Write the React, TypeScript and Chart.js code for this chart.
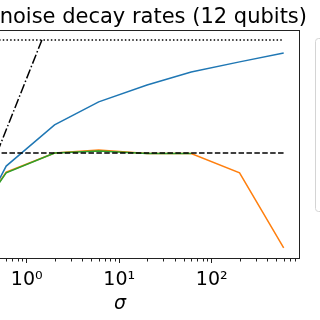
import React, { useEffect, useRef } from 'react';
import { Chart, registerables } from 'chart.js';

Chart.register(...registerables);

// ---- data ----
const sigma = [0.2, 0.6, 2, 6, 20, 60, 200, 600];
const blueRates = [0.066, 0.442, 0.624, 0.726, 0.801, 0.858, 0.903, 0.942];
const orangeRates = [0.13, 0.415, 0.5, 0.513, 0.498, 0.498, 0.412, 0.08];
const greenRates = [0.13, 0.412, 0.5, 0.509, 0.498, 0.498, null, null];
const boundSigma = [0.2, 1.46];
const boundRates = [0.111, 1.0];
const refSigma = [0.2, 600];
const upperRef = [1.0, 1.0];
const lowerRef = [0.5, 0.5];
const majorTicks = [1, 10, 100];
const majorTickLabels = ['10⁰', '10¹', '10²'];
const minorTicks = [
  0.2, 0.3, 0.4, 0.5, 0.6, 0.7, 0.8, 0.9,
  2, 3, 4, 5, 6, 7, 8, 9,
  20, 30, 40, 50, 60, 70, 80, 90,
  200, 300, 400, 500, 600, 700, 800, 900,
];
const titleText = 'noise decay rates (12 qubits)';
const xLabel = 'σ';

const pts = (xs: number[], ys: (number | null)[]) => xs.map((x, i) => ({ x, y: ys[i] }));

const decor = {
  id: 'decor',
  afterDraw(chart: any) {
    const { ctx, chartArea: a, scales } = chart;
    const xs = scales.x;
    ctx.save();
    ctx.strokeStyle = '#222';
    ctx.lineWidth = 1;
    // minor ticks
    minorTicks.forEach((v) => {
      const px = Math.round(xs.getPixelForValue(v)) + 0.5;
      if (px < a.left || px > a.right) return;
      ctx.beginPath();
      ctx.moveTo(px, a.bottom);
      ctx.lineTo(px, a.bottom + 2.5);
      ctx.stroke();
    });
    // frame
    ctx.strokeRect(Math.round(a.left) + 0.5, Math.round(a.top) + 0.5,
      Math.round(a.right - a.left) - 1, Math.round(a.bottom - a.top) - 1);
    // legend box (cropped)
    const lx = a.right + 15.5, ly = 38.5, lw = 120, lh = 173, r = 3;
    ctx.beginPath();
    ctx.moveTo(lx + r, ly);
    ctx.lineTo(lx + lw - r, ly);
    ctx.arcTo(lx + lw, ly, lx + lw, ly + r, r);
    ctx.lineTo(lx + lw, ly + lh - r);
    ctx.arcTo(lx + lw, ly + lh, lx + lw - r, ly + lh, r);
    ctx.lineTo(lx + r, ly + lh);
    ctx.arcTo(lx, ly + lh, lx, ly + lh - r, r);
    ctx.lineTo(lx, ly + r);
    ctx.arcTo(lx, ly, lx + r, ly, r);
    ctx.closePath();
    ctx.fillStyle = '#ffffff';
    ctx.fill();
    ctx.strokeStyle = '#d4d4d4';
    ctx.stroke();
    // title (left part cropped off in the reference)
    ctx.fillStyle = '#000';
    ctx.font = '21px "DejaVu Sans"';
    ctx.textAlign = 'right';
    ctx.textBaseline = 'alphabetic';
    ctx.fillText(titleText, a.right + 7, 23);
    ctx.restore();
  },
};

export default function App() {
  const ref = useRef<HTMLCanvasElement>(null);
  useEffect(() => {
    if (!ref.current) return;
    Chart.defaults.font.family = '"DejaVu Sans"';
    const line = (data: any, color: string, order: number, dash: number[] = []) => ({
      data,
      borderColor: color,
      backgroundColor: color,
      borderWidth: 1.5,
      borderDash: dash,
      pointRadius: 0,
      tension: 0,
      fill: false,
      spanGaps: false,
      order,
    });
    const chart = new Chart(ref.current, {
      type: 'line',
      data: {
        datasets: [
          line(pts(sigma, blueRates), '#1f77b4', 4),
          line(pts(sigma, orangeRates), '#ff7f0e', 3),
          line(pts(sigma, greenRates), '#2ca02c', 2),
          line(pts(boundSigma, boundRates), '#000000', 1, [9.6, 2.4, 1.5, 2.4]),
          line(pts(refSigma, upperRef), '#000000', 1, [1.5, 2.2]),
          line(pts(refSigma, lowerRef), '#000000', 1, [5.5, 2.4]),
        ] as any,
      },
      options: {
        animation: false,
        responsive: false,
        layout: { padding: { left: 0, right: 20, top: 30, bottom: 0 } },
        plugins: { legend: { display: false }, title: { display: false }, tooltip: { enabled: false } },
        scales: {
          x: {
            type: 'logarithmic',
            min: 0.1155,
            max: 900.5,
            offset: false,
            afterFit: (scale: any) => {
              scale.height = 61;
            },
            afterBuildTicks: (scale: any) => {
              scale.ticks = [...majorTicks, ...minorTicks]
                .filter((v) => v >= scale.min && v <= scale.max)
                .sort((p, q) => p - q)
                .map((v) => ({ value: v, major: majorTicks.includes(v) }));
            },
            ticks: {
              autoSkip: false,
              maxRotation: 0,
              padding: 6,
              color: '#000',
              font: { size: 19, family: '"DejaVu Sans"' },
              callback: (v: any) => {
                const i = majorTicks.indexOf(Number(v));
                return i >= 0 ? majorTickLabels[i] : '';
              },
            },
            grid: {
              display: true,
              drawOnChartArea: false,
              drawTicks: true,
              tickLength: 4,
              tickColor: (c: any) => (c.tick && majorTicks.includes(c.tick.value) ? '#222' : 'rgba(0,0,0,0)'),
            },
            border: { display: false },
            title: {
              display: true,
              text: xLabel,
              color: '#000',
              font: { size: 19, style: 'italic', family: '"DejaVu Sans"' },
              padding: { top: 0, bottom: 5 },
            },
          },
          y: {
            type: 'linear',
            min: 0.031,
            max: 1.044,
            display: false,
          },
        },
      } as any,
      plugins: [decor],
    });
    return () => chart.destroy();
  }, []);
  return (
    <div style={{ position: 'absolute', left: -60, top: 0, width: 380, height: 320, background: '#fff' }}>
      <canvas ref={ref} width={380} height={320} />
    </div>
  );
}
